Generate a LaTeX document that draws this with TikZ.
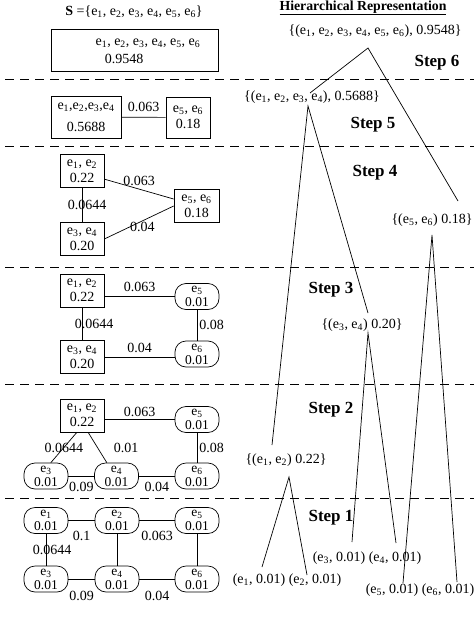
\documentclass[tikz,border=0pt]{standalone}
\usepackage{fontspec}
\setmainfont{Liberation Serif}
\newcommand{\el}[1]{e\textsubscript{#1}}
\begin{document}
\begin{tikzpicture}[x=1pt,y=-1pt,line width=0.7pt,
  grp/.style={draw,rectangle,minimum width=44pt,minimum height=33pt,inner sep=1pt,align=center,font=\fontsize{14}{16}\selectfont},
  sing/.style={draw,rounded corners=11pt,minimum width=44pt,minimum height=26pt,inner sep=0pt,align=center,font=\fontsize{13.5}{14}\selectfont},
  wt/.style={font=\fontsize{14}{16}\selectfont,inner sep=1pt},
  tlab/.style={font=\fontsize{14}{16}\selectfont,inner sep=1pt},
  steplab/.style={font=\fontsize{17}{20}\selectfont\bfseries,inner sep=1pt},
  divider/.style={dash pattern=on 9pt off 6pt,line width=0.6pt}]
\useasboundingbox (0,0) rectangle (474,623);

% dashed lines between the steps
\foreach \y in {79,146,267,384,498}
  \draw[divider] (5,\y) -- (474,\y);

\foreach \n/\x/\y in {6/437/63, 5/373/125, 4/375/173, 3/331/290, 2/331/410, 1/331/518}
  \node[steplab] (step\n) at (\x,\y) {Step \n};

% left side: the clusters at each step
\node[wt,font=\fontsize{14}{16}\selectfont] (setS) at (134,12) {\textbf{S} =\{\el1, \el2, \el3, \el4, \el5, \el6\}};

\node[grp,minimum width=167pt,minimum height=42pt] (s6) at (134.5,50) {};
\node[wt] (s6set) at (148,43) {\el1, \el2, \el3, \el4, \el5, \el6};
\node[wt] (s6val) at (124,59) {0.9548};

\node[grp,minimum width=70pt,minimum height=42pt,font=\fontsize{14}{22}\selectfont] (s5a) at (86,117) {\el1,\el2,\el3,\el4\\0.5688};
\node[grp,minimum height=41pt] (s5b) at (188,117.5) {\el5, \el6\\0.18};
\draw (s5a) -- (s5b) node[wt,midway,above=4pt] (w5ab) {0.063};

\node[grp] (s4a) at (82,171) {\el1, \el2\\0.22};
\node[grp] (s4b) at (82,239) {\el3, \el4\\0.20};
\node[grp,minimum width=45pt] (s4c) at (196.5,206) {\el5, \el6\\0.18};
\draw (s4a) -- (s4b) node[wt,midway,xshift=5pt] (w4ab) {0.0644};
\draw (s4a.-20) -- (s4c.163) node[wt,midway,above=2pt] (w4ac) {0.063};
\draw (s4b.east) -- (s4c.west) node[wt,pos=0.55,below] (w4bc) {0.04};

\node[grp] (s3a) at (82,290.5) {\el1, \el2\\0.22};
\node[grp] (s3b) at (82,357) {\el3, \el4\\0.20};
\node[sing] (s3c) at (197,296.5) {\el5\\0.01};
\node[sing] (s3d) at (197,354) {\el6\\0.01};
\draw (s3a.east |- s3c) -- (s3c) node[wt,midway,above=3pt] (w3ac) {0.063};
\draw (s3a) -- (s3b) node[wt,midway,xshift=12pt] (w3ab) {0.0644};
\draw (s3c) -- (s3d) node[wt,midway,right=1pt] (w3cd) {0.08};
\draw (s3b.east) -- (s3b.east -| s3d.west) node[wt,midway,above=3pt] (w3bd) {0.04};

\node[grp] (s2a) at (82,415.5) {\el1, \el2\\0.22};
\node[sing] (s2e) at (197,419.5) {\el5\\0.01};
\node[sing] (s2c) at (46,476) {\el3\\0.01};
\node[sing] (s2d) at (116.5,476) {\el4\\0.01};
\node[sing] (s2f) at (197,476) {\el6\\0.01};
\draw (s2a.east |- s2e) -- (s2e) node[wt,midway,above=1pt] (w2ae) {0.063};
\draw (s2e) -- (s2f) node[wt,midway,right=1pt] (w2ef) {0.08};
\draw (s2a.-107) -- (s2c.70) node[wt,midway] (w2ac) {0.0644};
\draw (s2a.-70) -- (s2d.126) node[wt,midway,right=15pt] (w2ad) {0.01};
\draw (s2c) -- (s2d) node[wt,midway,below=5pt] (w2cd) {0.09};
\draw (s2d) -- (s2f) node[wt,midway,below=5pt] (w2df) {0.04};

\node[sing] (s1a) at (46,520.5) {\el1\\0.01};
\node[sing] (s1b) at (117,520.5) {\el2\\0.01};
\node[sing] (s1e) at (197,520.5) {\el5\\0.01};
\node[sing] (s1c) at (46,579) {\el3\\0.01};
\node[sing] (s1d) at (117,579) {\el4\\0.01};
\node[sing] (s1f) at (197,579) {\el6\\0.01};
\draw (s1a) -- (s1b) node[wt,midway,below=9pt] (w1ab) {0.1};
\draw (s1b) -- (s1e) node[wt,midway,below=9pt] (w1be) {0.063};
\draw (s1a) -- (s1c) node[wt,midway,xshift=6pt] (w1ac) {0.0644};
\draw (s1b) -- (s1d);
\draw (s1e) -- (s1f);
\draw (s1c) -- (s1d) node[wt,midway,below=11pt] (w1cd) {0.09};
\draw (s1d) -- (s1f) node[wt,midway,below=11pt] (w1df) {0.04};

% right side: the tree
\node[font=\fontsize{13.8}{16}\selectfont\bfseries] (hier) at (363,8) {\underline{Hierarchical Representation}};
\node[tlab] (t6) at (375,31) {\{(\el1, \el2, \el3, \el4, \el5, \el6), 0.9548\}};
\node[tlab] (t5) at (312,97) {\{(\el1, \el2, \el3, \el4), 0.5688\}};
\node[tlab] (t4) at (432,220) {\{(\el5, \el6) 0.18\}};
\node[tlab] (t3) at (362,325) {\{(\el3, \el4) 0.20\}};
\node[tlab] (t2) at (286,460) {\{(\el1, \el2) 0.22\}};
\node[tlab] (l1) at (259,580) {(\el1, 0.01)};
\node[tlab] (l2) at (315,580) {(\el2, 0.01)};
\node[tlab] (l3) at (339,558) {(\el3, 0.01)};
\node[tlab] (l4) at (395,558) {(\el4, 0.01)};
\node[tlab] (l5) at (392,590) {(\el5, 0.01)};
\node[tlab] (l6) at (448,590) {(\el6, 0.01)};

\coordinate (a6) at (368,48);  \coordinate (b6) at (310,93);  \coordinate (c6) at (458,201);
\coordinate (a5) at (308,106); \coordinate (b5) at (272,445); \coordinate (c5) at (368,313);
\coordinate (a4) at (432,235); \coordinate (b4) at (403,583); \coordinate (c4) at (457,582);
\coordinate (a3) at (368,333); \coordinate (b3) at (352,542); \coordinate (c3) at (396,543);
\coordinate (a2) at (289,477); \coordinate (b2) at (262,567); \coordinate (c2) at (307,575);
\foreach \n in {2,...,6}
  \draw (b\n) -- (a\n) -- (c\n);

\end{tikzpicture}
\end{document}
